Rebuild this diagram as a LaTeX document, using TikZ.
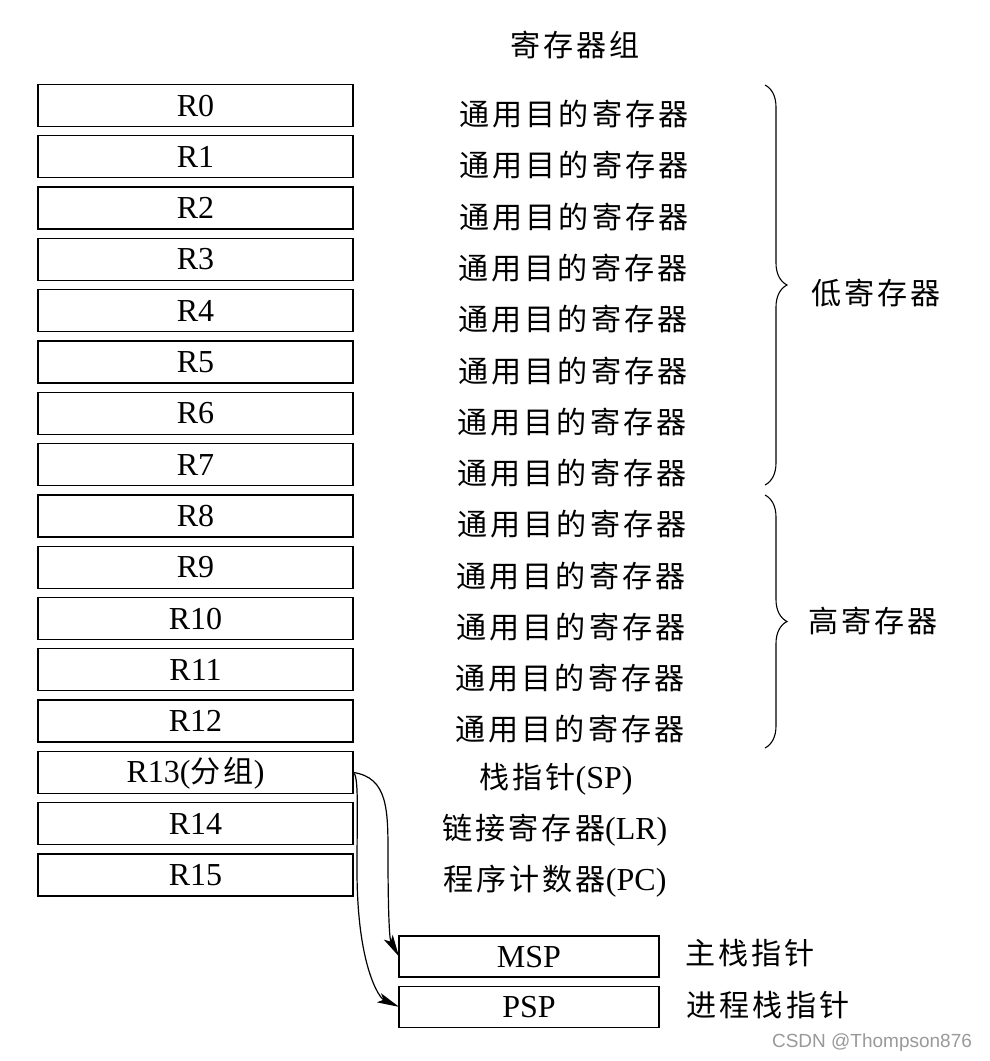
\documentclass[tikz,border=0pt]{standalone}
\usepackage{fontspec}
\setmainfont{Liberation Serif}
\newfontfamily\cjk[LetterSpace=10,Scale=0.94]{Noto Sans CJK SC}
\newfontfamily\wmfont{Liberation Sans}
\usetikzlibrary{positioning,arrows.meta,decorations.pathreplacing}

\newcommand{\zh}[1]{{\cjk #1}}

\tikzset{
    reg/.style={draw, line width=1.3pt, minimum width=315pt, minimum height=42pt,
        inner sep=0pt, outer sep=0pt, text height=21pt, text depth=0pt,
        font=\fontsize{32}{36}\selectfont},
    lbl/.style={inner sep=0pt, font=\fontsize{32}{38}\selectfont},
    grp/.style={draw, line width=1.1pt, decorate, decoration={brace, amplitude=22pt}},
    conn/.style={line width=1.2pt, -{Stealth[length=22pt, width=10pt, inset=5pt]}},
    node distance=9.3pt
}

\begin{document}
\begin{tikzpicture}[x=1pt, y=-1pt]
    \useasboundingbox (0,0) rectangle (990,1061);

    % title
    \node[lbl] (title) at (575,45) {\zh{寄存器组}};

    % the register boxes
    \node[reg] (r0) at (195.5,105.5) {R0};
    \node[reg, below=of r0] (r1) {R1};
    \node[reg, below=of r1] (r2) {R2};
    \node[reg, below=of r2] (r3) {R3};
    \node[reg, below=of r3] (r4) {R4};
    \node[reg, below=of r4] (r5) {R5};
    \node[reg, below=of r5] (r6) {R6};
    \node[reg, below=of r6] (r7) {R7};
    \node[reg, below=of r7] (r8) {R8};
    \node[reg, below=of r8] (r9) {R9};
    \node[reg, below=of r9] (r10) {R10};
    \node[reg, below=of r10] (r11) {R11};
    \node[reg, below=of r11] (r12) {R12};
    \node[reg, below=of r12] (r13) {R13(\zh{分组})};
    \node[reg, below=of r13] (r14) {R14};
    \node[reg, below=of r14] (r15) {R15};

    % the register names
    \node[lbl] (g0) at (574,114) {\zh{通用目的寄存器}};
    \node[lbl] (g1) at (574,165) {\zh{通用目的寄存器}};
    \node[lbl] (g2) at (574,217) {\zh{通用目的寄存器}};
    \node[lbl] (g3) at (573,268) {\zh{通用目的寄存器}};
    \node[lbl] (g4) at (573,319) {\zh{通用目的寄存器}};
    \node[lbl] (g5) at (573,371) {\zh{通用目的寄存器}};
    \node[lbl] (g6) at (572,422) {\zh{通用目的寄存器}};
    \node[lbl] (g7) at (572,473) {\zh{通用目的寄存器}};
    \node[lbl] (g8) at (572,524) {\zh{通用目的寄存器}};
    \node[lbl] (g9) at (571,576) {\zh{通用目的寄存器}};
    \node[lbl] (g10) at (571,627) {\zh{通用目的寄存器}};
    \node[lbl] (g11) at (570,678) {\zh{通用目的寄存器}};
    \node[lbl] (g12) at (570,729) {\zh{通用目的寄存器}};
    \node[lbl] (sp) at (556,779) {\zh{栈指针}(SP)};
    \node[lbl] (lr) at (555,830) {\zh{链接寄存器}(LR)};
    \node[lbl] (pc) at (555,881) {\zh{程序计数器}(PC)};

    % the two braces
    \coordinate (lowtop) at (765,85);
    \coordinate (lowbot) at (765,485);
    \coordinate (hightop) at (765,495);
    \coordinate (highbot) at (765,748);
    \draw[grp] (lowtop) -- (lowbot);
    \draw[grp] (hightop) -- (highbot);
    \node[lbl] (low) at (876,293) {\zh{低寄存器}};
    \node[lbl] (high) at (873,621) {\zh{高寄存器}};

    % the banked stack pointers
    \node[reg, minimum width=260pt, minimum height=41pt] (msp) at (529,956.5) {MSP};
    \node[reg, minimum width=260pt, minimum height=41pt, below=of msp] (psp) {PSP};
    \node[lbl] (mspname) at (750,953) {\zh{主栈指针}};
    \node[lbl] (pspname) at (768,1005) {\zh{进程栈指针}};

    % R13 points to either of them
    \draw[conn] (r13.east) .. controls +(35,5) and +(0,-45) .. (388,855)
        .. controls +(0,45) and +(-10,-18) .. (msp.west);
    \draw[conn] (r13.east) .. controls +(6,2) and +(0,-60) .. (357,870)
        .. controls +(0,95) and +(-20,-9) .. (psp.west);

    % watermark
    \node[font=\wmfont\fontsize{19}{22}\selectfont, text=gray!80, inner sep=0pt] (mark) at (872,1043) {CSDN @Thompson876};
\end{tikzpicture}
\end{document}
